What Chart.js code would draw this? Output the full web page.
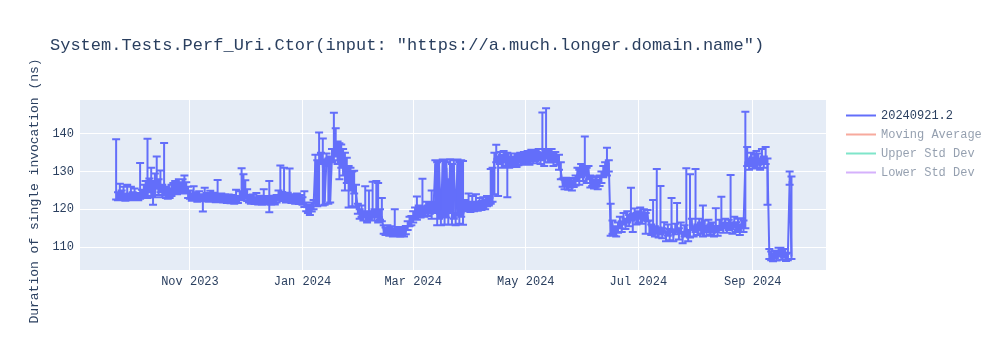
<!DOCTYPE html>
<html>
<head>
<meta charset="utf-8">
<script src="https://cdn.jsdelivr.net/npm/chart.js@4.4.1/dist/chart.umd.min.js"></script>
<style>
html,body{margin:0;padding:0;background:#fff;}
canvas{display:block;}
</style>
</head>
<body>
<canvas id="c" width="1000" height="350"></canvas>
<script>
const chartTitle = 'System.Tests.Perf_Uri.Ctor(input: "https://a.much.longer.domain.name")';
const yAxisTitle = 'Duration of single invocation (ns)';
const seriesName = '20240921.2';
const legendNames = ['20240921.2', 'Moving Average', 'Upper Std Dev', 'Lower Std Dev'];
const legendColors = ['#636efa', '#EF553B', '#00cc96', '#ab63fa'];
const legendShown = [true, false, false, false];

const tickDates = ['2023-11-01', '2024-01-01', '2024-03-01', '2024-05-01', '2024-07-01', '2024-09-01'];
const tickLabels = ['Nov 2023', 'Jan 2024', 'Mar 2024', 'May 2024', 'Jul 2024', 'Sep 2024'];
const yTicks = [110, 120, 130, 140];

const dates = [
'2023-09-22','2023-09-23','2023-09-24','2023-09-25','2023-09-26','2023-09-27','2023-09-28','2023-09-29','2023-09-30',
'2023-10-01','2023-10-02','2023-10-03','2023-10-04','2023-10-05','2023-10-06','2023-10-07','2023-10-08','2023-10-09','2023-10-10','2023-10-11','2023-10-12','2023-10-13','2023-10-14','2023-10-15','2023-10-16','2023-10-17','2023-10-18','2023-10-19','2023-10-20','2023-10-21','2023-10-22','2023-10-23','2023-10-24','2023-10-25','2023-10-26','2023-10-27','2023-10-28','2023-10-29','2023-10-30','2023-10-31',
'2023-11-01','2023-11-02','2023-11-03','2023-11-04','2023-11-05','2023-11-06','2023-11-07','2023-11-08','2023-11-09','2023-11-10','2023-11-11','2023-11-12','2023-11-13','2023-11-14','2023-11-15','2023-11-16','2023-11-17','2023-11-18','2023-11-19','2023-11-20','2023-11-21','2023-11-22','2023-11-23','2023-11-24','2023-11-25','2023-11-26','2023-11-27','2023-11-28','2023-11-29','2023-11-30',
'2023-12-01','2023-12-02','2023-12-03','2023-12-04','2023-12-05','2023-12-06','2023-12-07','2023-12-08','2023-12-09','2023-12-10','2023-12-11','2023-12-12','2023-12-13','2023-12-14','2023-12-15','2023-12-16','2023-12-17','2023-12-18','2023-12-19','2023-12-20','2023-12-21','2023-12-22','2023-12-23','2023-12-24','2023-12-25','2023-12-26','2023-12-27','2023-12-28','2023-12-29','2023-12-30','2023-12-31',
'2024-01-01','2024-01-02','2024-01-03','2024-01-04','2024-01-05','2024-01-06','2024-01-07','2024-01-08','2024-01-09','2024-01-10','2024-01-11','2024-01-12','2024-01-13','2024-01-14','2024-01-15','2024-01-16','2024-01-17','2024-01-18','2024-01-19','2024-01-20','2024-01-21','2024-01-22','2024-01-23','2024-01-24','2024-01-25','2024-01-26','2024-01-27','2024-01-28','2024-01-29','2024-01-30','2024-01-31',
'2024-02-01','2024-02-02','2024-02-03','2024-02-04','2024-02-05','2024-02-06','2024-02-07','2024-02-08','2024-02-09','2024-02-10','2024-02-11','2024-02-12','2024-02-13','2024-02-14','2024-02-15','2024-02-16','2024-02-17','2024-02-18','2024-02-19','2024-02-20','2024-02-21','2024-02-22','2024-02-23','2024-02-24','2024-02-25','2024-02-26','2024-02-27','2024-02-28','2024-02-29',
'2024-03-01','2024-03-02','2024-03-03','2024-03-04','2024-03-05','2024-03-06','2024-03-07','2024-03-08','2024-03-09','2024-03-10','2024-03-11','2024-03-12','2024-03-13','2024-03-14','2024-03-15','2024-03-16','2024-03-17','2024-03-18','2024-03-19','2024-03-20','2024-03-21','2024-03-22','2024-03-23','2024-03-24','2024-03-25','2024-03-26','2024-03-27','2024-03-28','2024-03-29','2024-03-30','2024-03-31',
'2024-04-01','2024-04-02','2024-04-03','2024-04-04','2024-04-05','2024-04-06','2024-04-07','2024-04-08','2024-04-09','2024-04-10','2024-04-11','2024-04-12','2024-04-13','2024-04-14','2024-04-15','2024-04-16','2024-04-17','2024-04-18','2024-04-19','2024-04-20','2024-04-21','2024-04-22','2024-04-23','2024-04-24','2024-04-25','2024-04-26','2024-04-27','2024-04-28','2024-04-29','2024-04-30',
'2024-05-01','2024-05-02','2024-05-03','2024-05-04','2024-05-05','2024-05-06','2024-05-07','2024-05-08','2024-05-09','2024-05-10','2024-05-11','2024-05-12','2024-05-13','2024-05-14','2024-05-15','2024-05-16','2024-05-17','2024-05-18','2024-05-19','2024-05-20','2024-05-21','2024-05-22','2024-05-23','2024-05-24','2024-05-25','2024-05-26','2024-05-27','2024-05-28','2024-05-29','2024-05-30','2024-05-31',
'2024-06-01','2024-06-02','2024-06-03','2024-06-04','2024-06-05','2024-06-06','2024-06-07','2024-06-08','2024-06-09','2024-06-10','2024-06-11','2024-06-12','2024-06-13','2024-06-14','2024-06-15','2024-06-16','2024-06-17','2024-06-18','2024-06-19','2024-06-20','2024-06-21','2024-06-22','2024-06-23','2024-06-24','2024-06-25','2024-06-26','2024-06-27','2024-06-28','2024-06-29','2024-06-30',
'2024-07-01','2024-07-02','2024-07-03','2024-07-04','2024-07-05','2024-07-06','2024-07-07','2024-07-08','2024-07-09','2024-07-10','2024-07-11','2024-07-12','2024-07-13','2024-07-14','2024-07-15','2024-07-16','2024-07-17','2024-07-18','2024-07-19','2024-07-20','2024-07-21','2024-07-22','2024-07-23','2024-07-24','2024-07-25','2024-07-26','2024-07-27','2024-07-28','2024-07-29','2024-07-30','2024-07-31',
'2024-08-01','2024-08-02','2024-08-03','2024-08-04','2024-08-05','2024-08-06','2024-08-07','2024-08-08','2024-08-09','2024-08-10','2024-08-11','2024-08-12','2024-08-13','2024-08-14','2024-08-15','2024-08-16','2024-08-17','2024-08-18','2024-08-19','2024-08-20','2024-08-21','2024-08-22','2024-08-23','2024-08-24','2024-08-25','2024-08-26','2024-08-27','2024-08-28','2024-08-29','2024-08-30','2024-08-31',
'2024-09-01','2024-09-02','2024-09-03','2024-09-04','2024-09-05','2024-09-06','2024-09-07','2024-09-08','2024-09-09','2024-09-10','2024-09-11','2024-09-12','2024-09-13','2024-09-14','2024-09-15','2024-09-16','2024-09-17','2024-09-18','2024-09-19','2024-09-20','2024-09-21','2024-09-22'
];

const durations = [
123.2,123.0,123.8,123.1,124.5,123.0,123.6,123.1,123.4,
123.0,123.6,123.2,123.0,123.5,124.0,124.6,125.5,124.2,126.8,125.0,126.0,124.3,127.2,125.0,126.5,124.8,125.5,124.2,123.6,124.0,124.8,125.5,126.0,125.2,126.5,125.8,126.8,125.5,126.0,124.5,
123.5,123.0,123.8,123.2,122.8,123.4,122.9,122.5,123.6,123.0,122.7,123.3,122.8,123.1,122.6,123.4,122.9,123.0,122.5,122.9,122.4,122.8,122.3,122.7,122.2,122.8,122.4,123.5,124.0,123.2,
124.2,123.0,122.6,122.3,122.7,122.2,122.8,122.1,122.5,122.0,122.6,122.1,122.4,122.8,122.0,122.5,122.1,122.6,123.5,124.0,123.2,123.8,122.6,123.0,123.5,122.5,122.8,122.3,122.7,122.2,122.6,
122.0,121.5,120.5,120.0,119.8,120.5,121.0,133.0,121.5,132.5,133.5,131.8,122.0,133.0,132.0,122.5,134.0,135.5,137.0,134.5,136.0,133.0,130.5,132.5,128.5,129.5,126.5,128.0,125.5,124.5,120.0,
118.5,119.5,118.0,119.0,117.5,118.8,118.0,119.5,118.2,119.0,117.8,118.5,118.0,114.5,114.0,114.6,113.8,114.2,113.6,114.3,113.7,114.1,113.5,114.0,113.6,114.4,115.5,116.5,117.0,
118.0,119.0,118.5,119.5,119.0,120.0,119.2,120.5,119.5,120.2,119.0,120.5,132.0,118.5,131.5,117.8,132.2,119.5,131.0,118.0,132.5,119.0,131.8,117.5,132.0,118.8,131.5,118.0,121.0,120.5,121.2,
120.3,121.0,120.5,121.3,120.6,121.0,120.8,121.5,121.0,121.8,122.0,122.5,123.0,133.5,134.0,132.5,133.8,132.8,134.2,133.0,133.5,132.5,133.2,132.8,133.5,132.6,133.0,133.8,133.2,133.6,
133.5,134.0,133.2,134.5,133.6,134.2,133.8,134.5,133.5,134.8,134.0,135.5,134.2,133.8,134.5,133.5,134.0,133.2,132.0,130.0,127.0,126.5,127.2,126.6,127.0,126.4,127.1,127.5,129.5,128.0,130.5,
129.0,131.0,128.5,130.0,127.0,127.5,126.8,127.3,126.5,127.5,128.5,130.0,131.0,130.5,131.5,114.0,115.5,114.2,113.8,115.0,116.5,115.2,117.5,116.0,118.0,117.0,118.5,117.2,118.8,117.5,
118.0,119.0,117.8,118.5,117.5,118.2,115.5,114.5,115.5,114.0,115.0,113.8,114.8,113.5,115.2,112.8,114.5,113.2,115.5,113.0,114.8,115.5,113.5,115.0,112.5,114.2,115.5,113.0,114.5,116.0,114.0,
115.8,114.5,116.0,115.0,114.0,115.5,114.2,115.8,114.5,115.0,114.0,115.5,114.2,115.8,116.5,115.0,116.2,115.0,115.8,116.0,115.0,116.5,115.2,116.0,114.5,116.2,115.5,132.5,133.0,132.0,133.5,
132.2,133.0,132.5,133.2,132.0,133.5,132.5,133.0,132.0,108.0,107.5,107.0,108.0,107.2,108.5,108.8,107.5,108.2,107.0,107.3,127.5,107.5
];

const upperBounds = [
138.6,124.5,126.8,125.0,126.0,124.0,126.5,124.2,126.0,
124.5,125.5,124.3,124.0,132.3,125.2,126.5,127.5,138.7,128.2,131.0,127.5,129.5,134.0,128.0,130.3,126.5,137.6,126.0,125.0,125.5,126.5,127.0,127.5,127.0,128.0,127.2,128.0,129.0,127.2,126.0,
125.0,124.2,126.1,124.5,124.0,124.8,124.0,123.8,125.7,124.3,123.9,124.9,124.0,124.4,123.8,127.8,124.0,124.2,123.6,124.0,123.5,123.9,123.4,123.8,123.3,125.2,123.5,124.8,130.9,129.3,
127.7,125.3,123.8,123.4,123.9,123.2,124.3,123.2,123.6,123.0,125.3,123.1,123.5,127.5,123.0,123.6,123.2,123.8,125.0,131.6,124.6,131.0,124.0,124.4,130.8,123.8,124.0,123.5,124.2,123.4,123.8,
123.2,124.8,121.8,121.2,121.0,121.8,122.5,134.5,133.0,140.4,135.0,138.8,133.2,134.8,133.5,134.0,136.0,145.6,141.5,138.0,137.5,137.2,136.0,135.0,133.7,131.5,131.0,130.0,130.2,126.5,121.5,
120.0,121.0,119.5,126.1,119.0,125.0,119.5,127.3,120.0,127.5,127.0,120.0,123.0,115.8,115.2,115.8,115.0,115.5,114.8,120.0,114.9,115.3,114.8,115.2,114.9,115.6,116.8,118.0,118.2,
119.5,120.5,123.4,121.0,120.5,128.1,120.8,122.0,121.0,121.5,125.0,122.0,133.0,132.5,133.0,119.5,133.2,132.8,132.5,128.0,133.3,132.0,133.0,119.0,133.2,132.5,133.0,132.8,122.5,122.0,124.2,
121.8,123.5,122.0,124.0,122.0,123.0,122.2,123.2,122.5,123.5,123.0,130.7,131.0,135.0,137.1,134.0,135.2,134.5,135.5,134.5,135.0,134.0,134.8,134.0,134.8,134.0,134.4,135.0,134.6,135.2,
135.0,135.5,134.8,135.8,135.0,135.5,135.2,136.0,135.0,145.7,136.0,146.8,135.5,135.2,136.0,134.8,135.2,134.5,134.5,132.5,128.2,127.8,128.4,127.8,128.2,127.6,128.3,129.0,131.0,130.5,132.0,
131.5,139.3,131.0,131.5,129.0,128.8,128.0,128.6,127.8,129.0,130.0,131.5,132.5,136.3,133.0,121.5,117.0,115.5,115.0,116.5,118.0,116.8,119.0,117.5,119.5,118.5,125.7,118.8,120.2,119.0,
119.5,120.5,119.2,120.0,119.0,119.8,117.0,116.0,122.5,115.5,130.7,115.2,126.2,115.0,116.6,114.2,116.0,114.8,123.0,114.5,116.2,121.7,115.0,116.5,114.0,115.8,130.9,114.5,129.3,117.5,115.5,
130.7,116.0,117.5,116.5,121.0,117.0,115.6,117.2,116.0,116.5,115.5,120.3,115.6,117.2,123.3,116.5,117.5,116.4,117.2,129.1,116.5,118.0,116.6,117.5,116.0,117.6,117.0,145.9,136.5,133.5,135.0,
133.8,134.5,135.5,134.8,133.5,136.0,134.0,136.5,133.5,109.5,108.8,108.2,109.0,108.5,109.8,109.8,109.0,109.5,108.2,108.5,130.0,128.7
];

const lowerBounds = [
122.6,122.4,122.8,122.5,123.0,122.3,122.8,122.4,122.6,
122.4,122.7,122.5,122.4,122.8,123.0,123.2,123.6,123.0,124.5,123.5,121.2,123.2,125.5,123.8,124.5,123.2,123.8,123.0,122.8,123.0,123.5,124.0,124.5,124.0,125.0,124.5,125.0,124.2,124.5,123.0,
122.8,122.3,123.0,122.5,122.0,122.6,122.2,119.4,122.8,122.3,122.0,122.5,122.1,122.4,121.9,122.6,122.2,122.3,121.8,122.1,121.7,122.0,121.6,121.9,121.5,122.0,121.7,122.5,122.8,122.4,
123.0,122.2,121.8,121.5,121.9,121.4,122.0,121.3,121.7,121.2,121.8,121.3,121.6,119.2,121.2,121.7,121.3,121.8,122.5,122.6,122.2,122.5,121.8,122.2,122.4,121.7,122.0,121.5,121.9,121.4,121.8,
121.2,120.6,119.5,119.0,118.5,119.4,120.0,121.5,120.8,121.0,132.0,121.0,121.2,131.5,121.5,121.8,132.5,133.0,134.0,132.0,128.0,131.0,129.0,125.0,127.0,120.5,125.0,120.8,124.2,120.5,118.8,
117.5,118.0,117.0,117.8,116.5,117.5,117.0,118.0,117.0,117.8,116.5,117.2,116.8,113.5,113.2,113.6,113.0,113.3,112.8,113.4,112.9,113.2,112.7,113.1,112.8,113.4,114.5,115.5,115.8,
116.5,117.5,117.2,118.0,117.8,118.5,118.0,119.0,118.2,118.8,117.5,119.2,119.0,115.8,117.5,115.8,118.0,116.0,117.8,115.9,119.0,116.0,117.5,115.8,118.5,116.2,118.0,115.9,119.8,119.5,120.0,
119.3,120.0,119.5,120.2,119.6,120.0,119.8,120.4,120.0,120.8,121.0,121.5,122.0,124.0,132.5,123.5,132.0,131.0,132.5,131.5,123.2,131.0,131.8,131.5,132.0,131.2,131.7,132.4,131.8,132.2,
132.0,132.5,131.8,133.0,132.2,132.8,132.2,133.0,132.0,133.0,131.5,133.5,132.5,132.4,133.0,131.5,132.5,131.8,130.5,128.0,126.0,125.3,126.0,125.2,125.8,125.0,125.9,126.3,127.5,126.5,128.5,
127.5,129.0,127.0,128.0,125.8,126.2,125.5,126.0,125.3,126.2,127.0,128.5,129.5,129.0,130.0,113.0,113.5,113.0,112.8,113.8,115.0,114.0,116.0,114.8,116.5,115.5,117.0,114.0,117.2,116.0,
116.5,117.5,116.2,117.0,113.5,116.8,113.5,113.2,114.0,112.8,113.5,112.5,113.3,112.3,113.8,111.5,113.0,111.8,114.0,111.5,113.4,114.0,112.0,113.5,111.0,112.8,113.0,111.5,112.5,114.5,112.8,
114.0,113.2,114.5,113.5,112.8,114.0,113.0,114.3,113.2,113.8,112.8,114.0,113.0,114.5,115.0,113.8,115.0,113.8,114.5,114.8,113.5,115.2,114.0,114.5,113.2,115.0,114.0,115.0,131.5,130.5,132.0,
130.8,131.5,131.0,131.8,130.5,132.0,131.0,132.0,121.2,106.8,106.5,106.2,107.0,106.4,107.5,107.8,106.6,107.2,106.3,106.5,126.5,106.8
];

const toTime = s => Date.parse(s + 'T00:00:00Z');
const FONT = '"Liberation Mono", "Courier New", monospace';
const TEXT = '#2a3f5f';

const bgPlugin = {
  id: 'plotBg',
  beforeDraw(chart) {
    const a = chart.chartArea, c = chart.ctx;
    c.save();
    c.fillStyle = '#ffffff';
    c.fillRect(0, 0, chart.width, chart.height);
    c.fillStyle = '#e5ecf6';
    c.fillRect(a.left, a.top, a.right - a.left, a.bottom - a.top);
    c.restore();
  }
};

const errorBarPlugin = {
  id: 'errorBars',
  afterDatasetsDraw(chart) {
    const c = chart.ctx, a = chart.chartArea;
    const xs = chart.scales.x, ys = chart.scales.y;
    c.save();
    c.beginPath();
    c.rect(a.left, a.top, a.right - a.left, a.bottom - a.top);
    c.clip();
    c.strokeStyle = '#636efa';
    c.lineWidth = 2;
    c.beginPath();
    dates.forEach((d, i) => {
      const x = xs.getPixelForValue(toTime(d));
      const yh = ys.getPixelForValue(upperBounds[i]);
      const yl = ys.getPixelForValue(lowerBounds[i]);
      c.moveTo(x, yl); c.lineTo(x, yh);
      c.moveTo(x - 4, yh); c.lineTo(x + 4, yh);
      c.moveTo(x - 4, yl); c.lineTo(x + 4, yl);
    });
    c.stroke();
    c.restore();
  }
};

const textPlugin = {
  id: 'texts',
  afterDraw(chart) {
    const c = chart.ctx;
    c.save();
    c.fillStyle = TEXT;
    c.textBaseline = 'middle';
    c.textAlign = 'left';
    c.font = '17px ' + FONT;
    c.fillText(chartTitle, 50, 45);

    c.save();
    c.translate(35, 191);
    c.rotate(-Math.PI / 2);
    c.textAlign = 'center';
    c.font = '13px ' + FONT;
    c.fillText(yAxisTitle, 0, 0);
    c.restore();

    c.font = '12px ' + FONT;
    legendNames.forEach((name, i) => {
      const y = 115.5 + i * 19;
      c.globalAlpha = legendShown[i] ? 1 : 0.5;
      c.strokeStyle = legendColors[i];
      c.lineWidth = 2;
      c.beginPath();
      c.moveTo(846, y); c.lineTo(876, y);
      c.stroke();
      c.fillStyle = TEXT;
      c.fillText(name, 881, y);
    });
    c.restore();
  }
};

new Chart(document.getElementById('c'), {
  type: 'line',
  data: {
    datasets: [{
      label: seriesName,
      data: dates.map((d, i) => ({ x: toTime(d), y: durations[i] })),
      borderColor: '#636efa',
      backgroundColor: '#636efa',
      borderWidth: 2,
      pointRadius: 0,
      tension: 0,
      fill: false
    }]
  },
  options: {
    responsive: false,
    animation: false,
    devicePixelRatio: 1,
    layout: { padding: { left: 0, right: 174, top: 100, bottom: 0 } },
    plugins: { legend: { display: false }, title: { display: false }, tooltip: { enabled: false } },
    scales: {
      x: {
        type: 'linear',
        min: Date.UTC(2023, 8, 2, 10),
        max: Date.UTC(2024, 9, 10, 17),
        grid: { color: '#ffffff', lineWidth: 1, drawTicks: false },
        border: { display: false },
        ticks: {
          color: TEXT, font: { family: FONT, size: 12 }, padding: 5, maxRotation: 0, autoSkip: false,
          callback: (v, i) => tickLabels[i]
        },
        afterBuildTicks(scale) { scale.ticks = tickDates.map(d => ({ value: toTime(d) })); },
        afterFit(scale) { scale.height = 80; }
      },
      y: {
        min: 103.9,
        max: 149,
        grid: { color: '#ffffff', lineWidth: 1, drawTicks: false },
        border: { display: false },
        ticks: { color: TEXT, font: { family: FONT, size: 12 }, padding: 6 },
        afterBuildTicks(scale) { scale.ticks = yTicks.map(v => ({ value: v })); },
        afterFit(scale) { scale.width = 80; }
      }
    }
  },
  plugins: [bgPlugin, errorBarPlugin, textPlugin]
});
</script>
</body>
</html>
